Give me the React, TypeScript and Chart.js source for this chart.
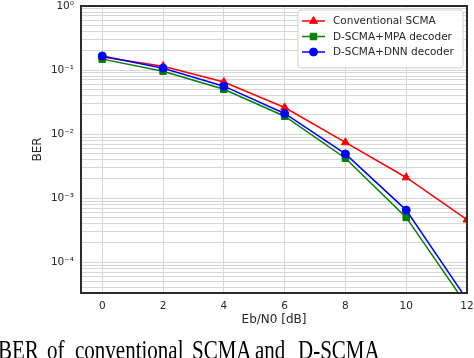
import React, { useEffect, useRef } from 'react';
import { Chart, registerables } from 'chart.js';

Chart.register(...registerables);

// ---- data ----
const ebn0 = [0, 2, 4, 6, 8, 10, 12];
const conventionalScma = [0.16, 0.115, 0.065, 0.026, 0.0074, 0.0021, 0.00046];
const dScmaMpa = [0.148, 0.096, 0.05, 0.019, 0.0042, 0.0005, 0.000021];
const dScmaDnn = [0.166, 0.107, 0.056, 0.021, 0.0049, 0.00065, 0.000026];
const seriesNames = ['Conventional SCMA', 'D-SCMA+MPA decoder', 'D-SCMA+DNN decoder'];
const xTickValues = [0, 2, 4, 6, 8, 10, 12];
const yDecades = [1e-5, 1e-4, 1e-3, 1e-2, 1e-1, 1];
const yDecadeLabels = ['10⁻⁵', '10⁻⁴', '10⁻³', '10⁻²', '10⁻¹', '10⁰'];
const xTitle = 'Eb/N0 [dB]';
const yTitle = 'BER';
const captionWords = ['BER', 'of', 'conventional', 'SCMA', 'and', 'D-SCMA'];

// ---- styles ----
const COLORS = ['#ff0000', '#008000', '#0000ff'];
const POINT_STYLES = ['triangle', 'rect', 'circle'];
const POINT_RADII = [4.6, 4.6, 4];
const FONT = "'DejaVu Sans', sans-serif";
const TEXT = '#262626';
const GRID = '#d6d6d6';

function drawMarker(ctx: CanvasRenderingContext2D, style: string, x: number, y: number, r: number, color: string) {
  ctx.save();
  ctx.fillStyle = color;
  ctx.strokeStyle = color;
  ctx.lineWidth = 1;
  ctx.beginPath();
  if (style === 'triangle') {
    let rad = 0;
    ctx.moveTo(x + Math.sin(rad) * r, y - Math.cos(rad) * r);
    rad += (2 * Math.PI) / 3;
    ctx.lineTo(x + Math.sin(rad) * r, y - Math.cos(rad) * r);
    rad += (2 * Math.PI) / 3;
    ctx.lineTo(x + Math.sin(rad) * r, y - Math.cos(rad) * r);
    ctx.closePath();
  } else if (style === 'rect') {
    const s = Math.SQRT1_2 * r;
    ctx.rect(x - s, y - s, 2 * s, 2 * s);
  } else {
    ctx.arc(x, y, r, 0, Math.PI * 2);
  }
  ctx.fill();
  ctx.stroke();
  ctx.restore();
}

const decorPlugin = {
  id: 'decor',
  afterDraw(chart: any) {
    const ctx: CanvasRenderingContext2D = chart.ctx;
    const a = chart.chartArea;
    ctx.save();
    // spines
    ctx.strokeStyle = '#2b2b2b';
    ctx.lineWidth = 2;
    ctx.strokeRect(a.left, a.top, a.right - a.left, a.bottom - a.top);

    // legend
    const lx = 298, ly = 10, lw = 165, lh = 58, rr = 3;
    ctx.beginPath();
    ctx.moveTo(lx + rr, ly);
    ctx.lineTo(lx + lw - rr, ly);
    ctx.quadraticCurveTo(lx + lw, ly, lx + lw, ly + rr);
    ctx.lineTo(lx + lw, ly + lh - rr);
    ctx.quadraticCurveTo(lx + lw, ly + lh, lx + lw - rr, ly + lh);
    ctx.lineTo(lx + rr, ly + lh);
    ctx.quadraticCurveTo(lx, ly + lh, lx, ly + lh - rr);
    ctx.lineTo(lx, ly + rr);
    ctx.quadraticCurveTo(lx, ly, lx + rr, ly);
    ctx.closePath();
    ctx.fillStyle = 'rgba(255,255,255,0.92)';
    ctx.fill();
    ctx.strokeStyle = '#cfcfcf';
    ctx.lineWidth = 1;
    ctx.stroke();

    ctx.font = `10.5px ${FONT}`;
    ctx.textBaseline = 'middle';
    ctx.textAlign = 'left';
    seriesNames.forEach((name, i) => {
      const y = 21 + i * 15.5;
      ctx.strokeStyle = COLORS[i];
      ctx.lineWidth = 1.5;
      ctx.beginPath();
      ctx.moveTo(302, y);
      ctx.lineTo(325, y);
      ctx.stroke();
      drawMarker(ctx, POINT_STYLES[i], 313.5, y, POINT_RADII[i], COLORS[i]);
      ctx.fillStyle = TEXT;
      ctx.fillText(name, 333, y + 0.5);
    });

    // axis titles
    ctx.fillStyle = TEXT;
    ctx.font = `12px ${FONT}`;
    ctx.textAlign = 'center';
    ctx.textBaseline = 'middle';
    ctx.fillText(xTitle, (a.left + a.right) / 2, 320);
    ctx.save();
    ctx.translate(38, (a.top + a.bottom) / 2);
    ctx.rotate(-Math.PI / 2);
    ctx.fillText(yTitle, 0, 0);
    ctx.restore();

    // caption (figure text below the plot)
    ctx.save();
    ctx.fillStyle = '#000';
    ctx.font = "21px 'Liberation Serif', serif";
    ctx.textAlign = 'left';
    ctx.textBaseline = 'alphabetic';
    ctx.translate(0, 359);
    ctx.scale(1, 1.35);
    const xs = [-2, 47, 75, 192, 255, 298];
    captionWords.forEach((w, i) => ctx.fillText(w, xs[i], 0));
    ctx.restore();
    ctx.restore();
  },
};

export default function App() {
  const ref = useRef<HTMLCanvasElement | null>(null);
  useEffect(() => {
    if (!ref.current) return;
    const series = [conventionalScma, dScmaMpa, dScmaDnn];
    const chart = new Chart(ref.current, {
      type: 'line',
      data: {
        datasets: series.map((vals, i) => ({
          label: seriesNames[i],
          data: ebn0.map((x, j) => ({ x, y: vals[j] })),
          borderColor: COLORS[i],
          backgroundColor: COLORS[i],
          pointBackgroundColor: COLORS[i],
          pointBorderColor: COLORS[i],
          pointStyle: POINT_STYLES[i] as any,
          pointRadius: POINT_RADII[i],
          pointBorderWidth: 1,
          borderWidth: 1.5,
          tension: 0,
          fill: false,
          order: 2 - i,
        })),
      },
      options: {
        animation: false,
        responsive: false,
        devicePixelRatio: 1,
        layout: { padding: { left: 0, right: 7, top: 6, bottom: 0 } },
        plugins: { legend: { display: false }, tooltip: { enabled: false } },
        scales: {
          x: {
            type: 'linear',
            min: -0.7,
            max: 12,
            afterBuildTicks: (scale: any) => {
              scale.ticks = xTickValues.map((v) => ({ value: v }));
            },
            afterFit: (scale: any) => {
              scale.height = 65;
              scale.paddingLeft = 0;
              scale.paddingRight = 0;
            },
            grid: { color: GRID, lineWidth: 1, drawTicks: false },
            border: { display: false },
            ticks: {
              autoSkip: false,
              maxRotation: 0,
              padding: 7,
              color: TEXT,
              font: { family: FONT, size: 10.5 },
              callback: (v: any) => String(v),
            },
          },
          y: {
            type: 'logarithmic',
            min: 3.3e-5,
            max: 1,
            afterBuildTicks: (scale: any) => {
              const t: any[] = [];
              for (let d = 0; d < yDecades.length; d++) {
                for (let k = 1; k <= 9; k++) {
                  const v = yDecades[d] * k;
                  if (v >= 3.3e-5 && v <= 1.0000001) t.push({ value: v });
                }
              }
              scale.ticks = t;
            },
            afterFit: (scale: any) => {
              scale.width = 81;
              scale.paddingTop = 0;
              scale.paddingBottom = 0;
            },
            grid: { color: GRID, lineWidth: 1, drawTicks: false },
            border: { display: false },
            ticks: {
              autoSkip: false,
              padding: 7,
              color: TEXT,
              font: { family: FONT, size: 10.5 },
              callback: (v: any) => {
                const idx = yDecades.findIndex((d) => Math.abs(Number(v) / d - 1) < 1e-6);
                return idx >= 0 ? yDecadeLabels[idx] : '';
              },
            },
          },
        },
      },
      plugins: [decorPlugin],
    });
    return () => chart.destroy();
  }, []);

  return (
    <div style={{ position: 'fixed', left: 0, top: 0, width: 474, height: 358, background: '#fff' }}>
      <canvas ref={ref} width={474} height={358} style={{ display: 'block', width: 474, height: 358 }} />
    </div>
  );
}
